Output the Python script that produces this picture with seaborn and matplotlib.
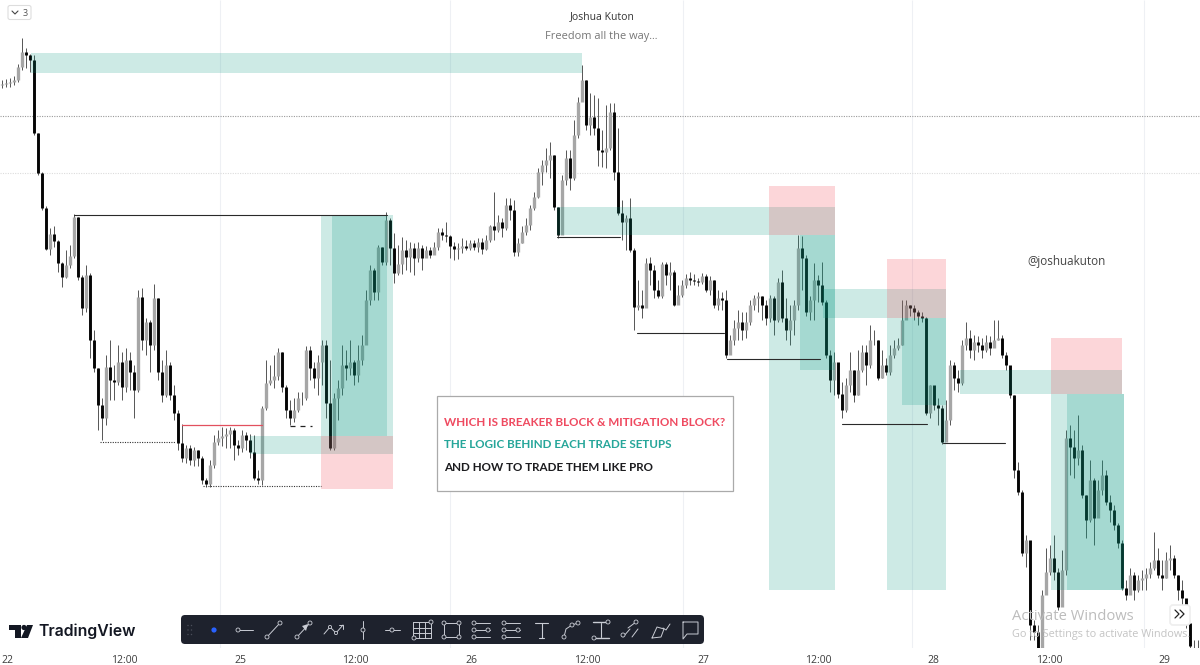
import numpy as np
import pandas as pd
import matplotlib
matplotlib.use("Agg")
import matplotlib.pyplot as plt
from matplotlib.patches import Rectangle, FancyBboxPatch, Polygon, Circle
import seaborn as sns

# ---- data (chart scale: larger = lower on screen) ----
closes = [84,83,82,80,67,52,55,60,133,173,208,249,234,241,263,277,265,256,217,277,
          308,275,340,368,405,418,367,380,382,362,387,360,372,390,297,340,322,345,298,372,
          395,365,395,413,443,458,448,460,450,458,480,484,465,442,438,436,434,430,445,448,
          435,440,452,478,480,408,383,380,376,352,387,410,418,410,398,398,350,368,378,362,
          345,403,448,398,388,365,368,362,375,360,345,300,270,292,247,262,220,248,273,264,
          250,257,248,258,248,258,250,255,247,232,235,236,246,249,248,246,248,243,247,242,
          249,240,226,230,222,228,205,210,252,243,232,225,208,197,172,165,160,155,207,235,
          180,158,178,135,102,80,125,117,128,150,152,148,112,172,213,222,218,250,307,305,
          308,263,270,290,296,264,275,272,305,295,285,278,280,281,282,276,290,280,305,298,
          300,355,340,328,322,330,322,305,298,296,305,318,298,320,282,318,330,320,305,248,
          258,312,300,280,285,302,355,380,362,394,410,385,370,395,370,352,365,340,340,378,
          365,372,355,348,345,320,305,308,312,316,318,413,385,405,408,442,420,365,378,383,
          345,338,350,342,345,350,342,348,340,338,355,365,395,470,492,553,540,625,632,648,
          595,572,558,572,607,570,438,447,458,450,495,520,480,518,490,475,502,510,525,543,
          588,595,575,590,580,578,574,568,560,575,578,560,558,575,590,598,623,646,646,646]
highs =  [80,79,78,76,64,38,48,54,55,133,172,206,228,226,240,262,250,245,214,217,
          275,265,273,330,368,398,355,340,365,345,352,348,352,365,290,288,318,320,284,298,
          360,350,362,385,410,424,445,445,447,450,456,478,460,435,430,427,428,427,428,440,
          430,432,434,435,470,406,360,365,355,348,352,385,400,398,392,392,346,346,362,355,
          340,340,360,393,380,345,350,340,360,345,335,290,265,268,245,247,212,218,233,245,
          237,240,242,243,242,245,246,247,242,228,228,222,235,242,243,238,240,240,240,238,
          238,235,225,192,215,218,198,198,200,238,226,218,205,192,168,160,148,142,155,207,
          175,150,150,120,97,65,80,93,95,98,130,105,103,103,128,200,215,198,248,280,
          290,258,257,265,280,262,262,262,270,285,280,274,272,274,278,273,274,276,280,290,
          292,290,335,320,310,312,312,300,295,292,296,300,295,296,278,270,298,305,300,235,
          236,255,296,263,275,262,300,350,352,368,382,378,352,370,350,345,345,325,330,340,
          350,358,345,340,338,300,300,305,305,310,312,317,385,398,398,405,400,360,362,370,
          340,322,330,335,336,338,335,336,320,320,335,352,368,395,462,490,535,550,620,625,
          590,548,545,535,568,550,430,425,430,415,445,495,460,478,480,460,470,495,505,523,
          540,580,568,572,575,570,568,562,532,548,560,552,545,555,575,580,600,625,640,640]
lows =   [88,87,87,85,82,70,68,72,135,175,210,250,255,247,272,287,278,268,258,280,
          315,312,358,372,430,440,425,400,400,385,400,392,390,418,392,350,355,372,350,380,
          402,397,400,420,450,462,463,465,466,466,484,487,487,468,445,446,448,448,460,455,
          452,450,458,480,484,485,410,385,388,380,392,418,425,422,412,405,400,380,388,395,
          385,418,450,450,420,395,380,375,385,382,365,330,305,300,300,265,265,265,283,275,
          274,270,272,275,262,270,255,258,252,250,240,242,258,260,259,253,250,250,250,252,
          254,250,242,240,232,237,230,220,256,256,243,235,230,210,198,185,172,178,210,238,
          228,185,190,180,138,100,130,135,135,166,167,168,150,180,215,240,250,252,330,310,
          318,300,285,298,298,298,285,290,306,302,297,288,285,285,286,284,292,295,308,310,
          310,358,352,345,340,340,338,325,310,312,320,325,322,335,322,322,340,345,335,310,
          290,316,320,320,302,305,358,392,395,398,418,412,392,402,395,372,385,368,345,380,
          378,375,375,358,350,345,318,316,320,325,322,415,418,410,425,444,440,425,390,392,
          385,350,358,360,352,358,352,355,345,340,358,370,398,478,495,556,567,640,640,648,
          650,580,575,580,610,595,575,475,478,465,498,538,522,545,510,495,505,522,530,548,
          590,600,590,600,592,590,590,578,570,578,590,578,570,578,600,605,628,648,648,648]

day_ticks = [7,124,240,355,471,587,703,818,933,1049,1164]
day_labels = ["22","12:00","25","12:00","26","12:00","27","12:00","28","12:00","29"]
grid_x = [219.5,450,682.5,912,1144]

teal_zones = [(31,582,53,73),(321,393,215,436),(332,387,215,436),(250,393,436,454),
              (557,835,207,235),(769,835,235,590),(800,835,235,370),
              (823,946,289,318),(887,946,318,590),(902,946,318,405),
              (960,1122,370,394),(1051,1124,394,590),(1067,1124,394,590)]
red_zones = [(321,393,436,489),(769,835,186,235),(887,946,259,318),(1051,1122,338,394)]

solid_levels = [(74,387,215),(557,620,237),(637,724,333),(727,820,359),(842,927,424),(943,1005,443)]
dotted_levels = [(100,175,442),(203,321,486)]

headline = ["WHICH IS BREAKER BLOCK & MITIGATION BLOCK?",
            "THE LOGIC BEHIND EACH TRADE SETUPS",
            "AND HOW TO TRADE THEM LIKE PRO"]
headline_colors = ["#ef4a60","#26a69a","#1c1c1f"]

# ---- figure ----
sns.set_theme(style="white")
plt.rcParams["font.family"] = ["Open Sans","DejaVu Sans"]
fig = plt.figure(figsize=(12,6.65),dpi=100,facecolor="white")
ax = fig.add_axes([0,17/665,1,648/665])

n = len(closes)
bar_x = 2+4*np.arange(n)
opens = np.r_[closes[0]+1,closes[:-1]]
closes_a = np.array(closes)
up = closes_a < opens   # smaller value = higher on the screen

wick = pd.DataFrame({"bar":np.r_[bar_x,bar_x],"price":np.r_[highs,lows],"unit":np.r_[np.arange(n),np.arange(n)]})
body = pd.DataFrame({"bar":np.r_[bar_x,bar_x],"price":np.r_[opens,closes_a],"unit":np.r_[np.arange(n),np.arange(n)],
                     "up":np.r_[up,up]})
sns.lineplot(data=wick,x="bar",y="price",units="unit",estimator=None,color="#4a4a4a",lw=0.65,
             solid_capstyle="butt",ax=ax,zorder=3,legend=False)
sns.lineplot(data=body[body.up],x="bar",y="price",units="unit",estimator=None,color="#a6a6a6",lw=2.4,
             solid_capstyle="butt",ax=ax,zorder=4,legend=False)
sns.lineplot(data=body[~body.up],x="bar",y="price",units="unit",estimator=None,color="#050505",lw=2.1,
             solid_capstyle="butt",ax=ax,zorder=4,legend=False)

ax.set_xlim(0,1200); ax.set_ylim(648,0)
ax.set_xlabel(""); ax.set_ylabel("")
ax.set_yticks([])
ax.set_xticks(day_ticks); ax.set_xticklabels(day_labels,fontsize=7.5,color="#3c3c3c")
ax.tick_params(axis="x",length=0,pad=5)
for s in ax.spines.values(): s.set_visible(False)

ax.vlines(grid_x,0,648,color="#eef0f4",lw=0.8,zorder=0)
ax.hlines(116,0,1200,color="#9a9a9a",lw=0.8,linestyles=(0,(1,1.2)),zorder=1)
ax.hlines(173,0,1200,color="#dcdcdc",lw=0.8,linestyles=(0,(1,1.2)),zorder=1)

for x0,x1,y0,y1 in teal_zones:
    ax.add_patch(Rectangle((x0,y0),x1-x0,y1-y0,fc="#089981",alpha=0.2,lw=0,zorder=5))
for x0,x1,y0,y1 in red_zones:
    ax.add_patch(Rectangle((x0,y0),x1-x0,y1-y0,fc="#f23645",alpha=0.2,lw=0,zorder=5.5))

for x0,x1,y in solid_levels:
    ax.plot([x0,x1],[y,y],color="#2a2a2a",lw=0.8,zorder=6)
ax.plot([182,262],[425,425],color="#e2505f",lw=0.9,zorder=6)
for x0,x1,y in dotted_levels:
    ax.plot([x0,x1],[y,y],color="#333333",lw=0.8,ls=(0,(1,1.2)),zorder=6)
ax.plot([290,312],[426,426],color="#222222",lw=0.9,ls=(0,(4,4)),zorder=6)

# header and signature
ax.text(602,17,"Joshua Kuton",ha="center",va="center",fontsize=7.5,color="#333333",zorder=8)
ax.text(601.5,36,"Freedom all the way...",ha="center",va="center",fontsize=7.9,color="#777777",zorder=8)
ax.text(1066,262,"@joshuakuton",ha="center",va="center",fontsize=8.4,color="#444444",zorder=8)

# headline box
ax.add_patch(Rectangle((437,396),296,95,fc="white",ec="#aaaaaa",lw=0.9,zorder=7))
for txt,col,y in zip(headline,headline_colors,[422.5,444.5,467.5]):
    ax.text(444,y,txt,ha="left",va="center",fontsize=8.4,color=col,family="Lato",weight="bold",zorder=8)

# collapse button
ax.add_patch(FancyBboxPatch((8,5.5),23,14,boxstyle="round,pad=0,rounding_size=2",fc="white",ec="#dddddd",lw=0.8,zorder=8))
ax.plot([12,15,18],[11,14,11],color="#444444",lw=0.8,zorder=9)
ax.text(25,13,"3",ha="center",va="center",fontsize=6.5,color="#555555",zorder=9)

# scroll button
ax.add_patch(FancyBboxPatch((1170,605),20,20,boxstyle="round,pad=0,rounding_size=3",fc="white",ec="#eeeeee",lw=1.2,zorder=8))
ax.plot([1175,1179,1175],[610,614,618],color="#222222",lw=0.9,zorder=9)
ax.plot([1180,1184,1180],[610,614,618],color="#222222",lw=0.9,zorder=9)

# logo
ax.add_patch(Polygon([(9,625),(21,625),(21,638),(15,638),(15,630),(9,630)],fc="#131722",lw=0,zorder=8))
ax.add_patch(Circle((24,627.5),2.6,fc="#131722",lw=0,zorder=8))
ax.add_patch(Polygon([(27,625),(33,625),(28,638),(21,638)],fc="#131722",lw=0,zorder=8))
ax.text(38,631.5,"TradingView",ha="left",va="center",fontsize=11.4,color="#131722",family="Inter",weight="semibold",zorder=8)

# activation watermark
ax.text(1012,616,"Activate Windows",ha="left",va="center",fontsize=10.6,color="#bcbcbc",zorder=9)
ax.text(1012,634,"Go to Settings to activate Windows.",ha="left",va="center",fontsize=7.8,color="#c4c4c4",zorder=9)

# drawing toolbar
ic = "#c9ccd4"
ax.add_patch(FancyBboxPatch((181,615),523,29,boxstyle="round,pad=0,rounding_size=4",fc="#1e222d",ec="none",zorder=10))
def ln(xs,ys,lw=0.7): ax.plot(xs,ys,color=ic,lw=lw,zorder=11,solid_capstyle="round")
def dot(x,y,r=2): ax.add_patch(Circle((x,y),r,fc="#1e222d",ec=ic,lw=0.6,zorder=12))
for gx in (188,191.5):
    for gy in (625.5,630,634.5):
        ax.add_patch(Circle((gx,gy),0.7,fc="#4a4e5a",lw=0,zorder=11))
ax.add_patch(Circle((214,630),2.6,fc="#2962ff",lw=0,zorder=11))
ln([238,253],[630,630]); dot(238,630)
ln([267,280],[637,623]); dot(267,637); dot(280,623)
ln([297,310],[637,623]); dot(297,637); dot(310,623)
ax.add_patch(Polygon([(302,626),(308,624),(306,631)],fc=ic,lw=0,zorder=11))
ln([324,330,336,343],[634,627,633,625]); dot(330,627,1.6); dot(336,633,1.6)
ln([339,343,343],[625,625,629])
ln([363,363],[621,639]); dot(363,630)
ln([385,400],[630,630]); dot(392,630)
for v in (413,419,425,431): ln([v,v],[622,638])
for h in (622,627.5,633,638): ln([413,431],[h,h])
dot(414,638); dot(431,622)
ln([444,459,459,444,444],[623,623,637,637,623]); dot(444,623); dot(459,623); dot(444,637); dot(459,637)
for h in (623,630,637): ln([473,490],[h,h])
dot(474,623); dot(474,630); dot(488,630); dot(474,637)
for h in (623,630,637): ln([503,520],[h,h])
dot(504,623); dot(504,630); dot(518,630); dot(504,637)
ln([535,548],[623,623],0.8); ln([541.5,541.5],[623,638],0.8); ln([539,544],[638,638],0.8)
ln([564,566,572,578],[637,629,625,623]); dot(564,637); dot(572,625); dot(578,623)
ln([593,609],[638,638],1); ln([593,609],[622,622],1); ln([601,601],[623,637],0.8); dot(594,638); dot(608,622)
ln([623,630],[637,629]); ln([632,638],[637,629]); dot(623,635); dot(636,622); ln([628,636],[628,622])
ln([652,657,664,661,652],[638,627,629,637,638]); ln([663,666,670],[628,630,624])
ln([683,698,698,687,683,683],[622,622,634,634,639,622])

fig.savefig("out.png",dpi=100)
